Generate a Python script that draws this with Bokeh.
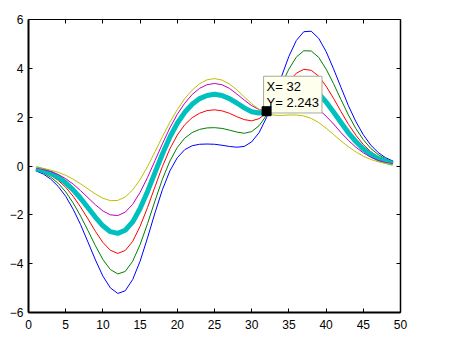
from bokeh.plotting import figure
from bokeh.models import Range1d, LinearAxis, FixedTicker, Label
from bokeh.embed import file_html
from bokeh.resources import INLINE

# sample index 1..49
x = list(range(1, 50))

blue = [-0.20, -0.33, -0.54, -0.84, -1.24, -1.77, -2.40, -3.12, -3.85, -4.51, -4.99, -5.22, -5.11,
        -4.65, -3.90, -2.94, -1.92, -0.97, -0.20, 0.34, 0.67, 0.83, 0.89, 0.90, 0.89, 0.85,
        0.80, 0.77, 0.80, 0.99, 1.37, 1.99, 2.78, 3.66, 4.49, 5.14, 5.50, 5.52, 5.23,
        4.69, 3.98, 3.22, 2.47, 1.82, 1.28, 0.86, 0.55, 0.34, 0.20]
green = [-0.17, -0.28, -0.46, -0.71, -1.06, -1.51, -2.05, -2.65, -3.27, -3.83, -4.24, -4.42, -4.32,
         -3.90, -3.22, -2.36, -1.43, -0.54, 0.20, 0.76, 1.14, 1.37, 1.50, 1.56, 1.57, 1.54,
         1.47, 1.39, 1.34, 1.41, 1.65, 2.08, 2.66, 3.33, 3.97, 4.46, 4.72, 4.71, 4.45,
         3.97, 3.37, 2.72, 2.09, 1.53, 1.08, 0.72, 0.47, 0.29, 0.17]
red = [-0.14, -0.23, -0.38, -0.59, -0.87, -1.24, -1.68, -2.17, -2.68, -3.13, -3.45, -3.58, -3.46,
       -3.09, -2.47, -1.70, -0.85, -0.02, 0.70, 1.27, 1.69, 1.98, 2.16, 2.27, 2.30, 2.26,
       2.16, 2.02, 1.90, 1.85, 1.94, 2.18, 2.55, 3.01, 3.46, 3.80, 3.96, 3.92, 3.68,
       3.27, 2.77, 2.23, 1.71, 1.26, 0.88, 0.59, 0.38, 0.24, 0.14]
cyan = [-0.11, -0.19, -0.30, -0.46, -0.69, -0.98, -1.32, -1.71, -2.10, -2.45, -2.69, -2.76, -2.63,
        -2.29, -1.74, -1.04, -0.27, 0.49, 1.18, 1.75, 2.20, 2.53, 2.76, 2.89, 2.94, 2.89,
        2.76, 2.58, 2.38, 2.22, 2.17, 2.24, 2.43, 2.70, 2.97, 3.17, 3.25, 3.18, 2.96,
        2.62, 2.21, 1.78, 1.36, 1.00, 0.70, 0.47, 0.30, 0.19, 0.11]
magenta = [-0.08, -0.14, -0.23, -0.35, -0.52, -0.74, -1.01, -1.30, -1.59, -1.84, -2.00, -2.03, -1.89,
           -1.57, -1.08, -0.47, 0.22, 0.91, 1.56, 2.12, 2.57, 2.93, 3.18, 3.33, 3.38, 3.33,
           3.18, 2.95, 2.70, 2.47, 2.31, 2.24, 2.28, 2.39, 2.51, 2.60, 2.61, 2.52, 2.32,
           2.04, 1.72, 1.37, 1.05, 0.77, 0.54, 0.36, 0.23, 0.14, 0.09]
yellow = [-0.06, -0.10, -0.17, -0.26, -0.38, -0.54, -0.73, -0.94, -1.15, -1.32, -1.42, -1.41, -1.27,
          -0.98, -0.56, -0.02, 0.58, 1.20, 1.79, 2.31, 2.76, 3.11, 3.37, 3.53, 3.58, 3.52,
          3.36, 3.12, 2.83, 2.55, 2.32, 2.16, 2.08, 2.07, 2.09, 2.09, 2.05, 1.95, 1.78,
          1.55, 1.29, 1.03, 0.79, 0.58, 0.40, 0.27, 0.17, 0.11, 0.06]

series = [blue, green, red, cyan, magenta, yellow]
colors = ["#0000FF", "#008000", "#FF0000", "#00BFBF", "#BF00BF", "#BFBF00"]
widths = [1, 1, 1, 5, 1, 1]

x_ticks = [0, 5, 10, 15, 20, 25, 30, 35, 40, 45, 50]
x_tick_labels = ["0", "5", "10", "15", "20", "25", "30", "35", "40", "45", "50"]
y_ticks = [-6, -4, -2, 0, 2, 4, 6]
y_tick_labels = ["\u22126", "\u22124", "\u22122", "0", "2", "4", "6"]

# data tip
tip_x = 32
tip_y = 2.243

FONT = "Liberation Sans"

p = figure(width=450, height=356, output_backend="svg", toolbar_location=None,
           x_range=Range1d(0, 50), y_range=Range1d(-6, 6),
           min_border_left=28, min_border_right=50, min_border_top=19, min_border_bottom=44)
p.grid.visible = False
p.outline_line_color = None
p.background_fill_color = "white"
p.border_fill_color = "white"

p.add_layout(LinearAxis(), "above")
p.add_layout(LinearAxis(), "right")


def style(ax, ticks, labels, show, lw):
    ax.ticker = FixedTicker(ticks=ticks)
    ax.major_tick_in = 4
    ax.major_tick_out = 0
    ax.minor_tick_in = 0
    ax.minor_tick_out = 0
    ax.axis_line_color = "black"
    ax.axis_line_width = lw
    ax.major_tick_line_color = "black"
    ax.major_tick_line_width = 1
    ax.major_label_text_font = FONT
    ax.major_label_text_font_size = "12px"
    ax.major_label_text_color = "black"
    if show:
        ax.major_label_overrides = dict(zip(ticks, labels))
    else:
        ax.major_label_overrides = {t: "" for t in ticks}


style(p.below[0], x_ticks, x_tick_labels, True, 2)
p.below[0].major_label_standoff = 7
style(p.left[0], y_ticks, y_tick_labels, True, 2)
p.left[0].major_label_standoff = 5
style(p.above[0], x_ticks, x_tick_labels, False, 1)
style(p.right[0], y_ticks, y_tick_labels, False, 1.5)

for s, c, w in zip(series, colors, widths):
    p.line(x, s, line_color=c, line_width=w)

tip = Label(x=tip_x, y=tip_y, text=f"X= {tip_x}\nY= {tip_y}",
            text_font=FONT, text_font_size="13px", text_color="black",
            text_align="left", text_baseline="top", text_line_height=1.05,
            x_offset=-3, y_offset=35, padding=3,
            background_fill_color="#FFFFEE", border_line_color="#A8A8A0", border_line_width=1)
p.add_layout(tip)

p.scatter([tip_x], [tip_y], marker="square", size=9, fill_color="black", line_color="black",
          level="overlay")

open("out.html", "w").write(file_html(p, INLINE))
